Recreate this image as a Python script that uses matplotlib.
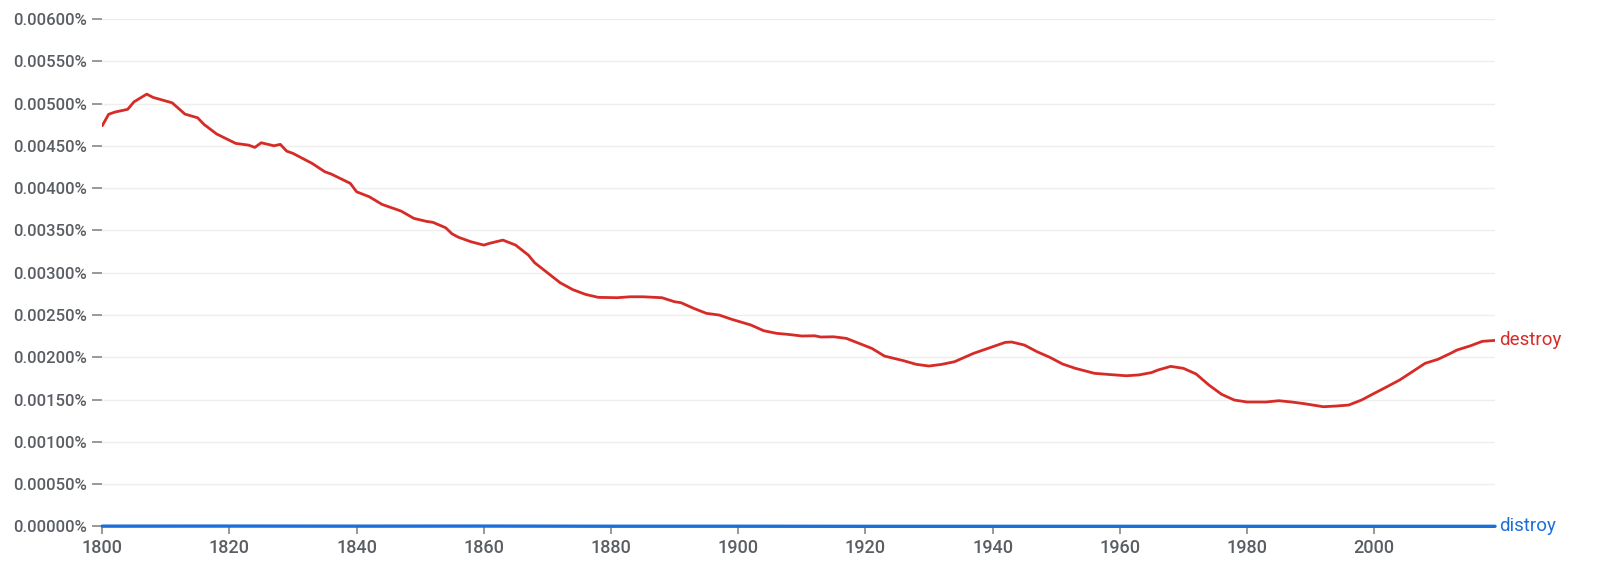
import matplotlib
matplotlib.use('Agg')
import matplotlib.pyplot as plt
from matplotlib.ticker import FuncFormatter, MultipleLocator

plt.rcParams['font.family'] = ['Roboto', 'DejaVu Sans']

# values in percent
destroy_years = [1800, 1801, 1802, 1804, 1805, 1807, 1808, 1811, 1813, 1815, 1816, 1818,
                 1821, 1823, 1824, 1825, 1827, 1828, 1829, 1830, 1832, 1833, 1835, 1836,
                 1839, 1840, 1842, 1844, 1847, 1849, 1851, 1852, 1854, 1855, 1856, 1858,
                 1860, 1861, 1863, 1865, 1867, 1868, 1870, 1872, 1874, 1876, 1878, 1881,
                 1883, 1885, 1888, 1890, 1891, 1893, 1895, 1897, 1899, 1902, 1904, 1906,
                 1908, 1910, 1912, 1913, 1915, 1917, 1919, 1921, 1923, 1926, 1928, 1930,
                 1932, 1934, 1937, 1940, 1942, 1943, 1945, 1947, 1949, 1951, 1953, 1956,
                 1958, 1961, 1963, 1965, 1966, 1968, 1970, 1972, 1974, 1976, 1978, 1980,
                 1983, 1985, 1987, 1989, 1992, 1994, 1996, 1998, 2000, 2002, 2004, 2006,
                 2008, 2010, 2012, 2013, 2015, 2017, 2019]
destroy_vals = [0.004738, 0.004873, 0.004900, 0.004932, 0.005021, 0.005112, 0.005073,
                0.005009, 0.004876, 0.004832, 0.004754, 0.004640, 0.004529, 0.004509,
                0.004482, 0.004537, 0.004501, 0.004518, 0.004438, 0.004411, 0.004332,
                0.004293, 0.004194, 0.004167, 0.004057, 0.003957, 0.003898, 0.003808,
                0.003729, 0.003643, 0.003607, 0.003596, 0.003532, 0.003460, 0.003420,
                0.003366, 0.003327, 0.003350, 0.003386, 0.003327, 0.003209, 0.003118,
                0.003000, 0.002882, 0.002800, 0.002744, 0.002709, 0.002705, 0.002716,
                0.002716, 0.002705, 0.002657, 0.002646, 0.002579, 0.002520, 0.002500,
                0.002449, 0.002382, 0.002315, 0.002284, 0.002270, 0.002252, 0.002255,
                0.002240, 0.002243, 0.002224, 0.002165, 0.002106, 0.002015, 0.001960,
                0.001917, 0.001897, 0.001917, 0.001948, 0.002047, 0.002125, 0.002177,
                0.002181, 0.002145, 0.002066, 0.002000, 0.001921, 0.001870, 0.001811,
                0.001799, 0.001782, 0.001792, 0.001820, 0.001850, 0.001893, 0.001870,
                0.001803, 0.001673, 0.001563, 0.001495, 0.001472, 0.001472, 0.001487,
                0.001472, 0.001452, 0.001416, 0.001424, 0.001436, 0.001495, 0.001574,
                0.001652, 0.001732, 0.001830, 0.001929, 0.001976, 0.002047, 0.002086,
                0.002133, 0.002189, 0.002200]

distroy_years = [1800, 1820, 1840, 1860, 1880, 1900, 1920, 1940, 1960, 1980, 2000, 2019]
distroy_vals = [0.000004, 0.000005, 0.000004, 0.000005, 0.000003, 0.000003, 0.000002,
                0.000002, 0.000002, 0.000002, 0.000002, 0.000002]

red = '#d62b27'
blue = '#1a6fd8'
grey = '#5a5e63'

fig = plt.figure(figsize=(16, 5.64), dpi=100)
ax = fig.add_axes([0.0639, 0.0665, 0.8705, 0.8998])

ax.plot(destroy_years, destroy_vals, color=red, lw=2.0, solid_capstyle='round',
        solid_joinstyle='round')
ax.plot(distroy_years, distroy_vals, color=blue, lw=2.4, solid_capstyle='round',
        clip_on=False, zorder=5)

ax.set_xlim(1800, 2019)
ax.set_ylim(0, 0.006)
ax.yaxis.set_major_locator(MultipleLocator(0.0005))
ax.xaxis.set_major_locator(MultipleLocator(20))
ax.yaxis.set_major_formatter(FuncFormatter(lambda v, p: '{:.5f}%'.format(v)))

ax.grid(axis='y', color='#eeeeee', lw=1)
ax.set_axisbelow(True)
for s in ['top', 'right', 'left']:
    ax.spines[s].set_visible(False)
ax.spines['bottom'].set_color('#bbbbbb')

ax.tick_params(axis='y', length=7, width=1.2, color='#888888', labelcolor=grey,
               labelsize=12, pad=4)
ax.tick_params(axis='x', length=6, width=1.2, color='#888888', labelcolor=grey,
               labelsize=13, pad=3)
for lab in ax.get_xticklabels() + ax.get_yticklabels():
    lab.set_fontweight('medium')

ax.text(2019.6, destroy_vals[-1], 'destroy', color=red, fontsize=13.5,
        va='center', ha='left', clip_on=False)
ax.text(2019.6, distroy_vals[-1], 'distroy', color=blue, fontsize=13.5,
        va='center', ha='left', clip_on=False)

fig.savefig('out.png', dpi=100)
